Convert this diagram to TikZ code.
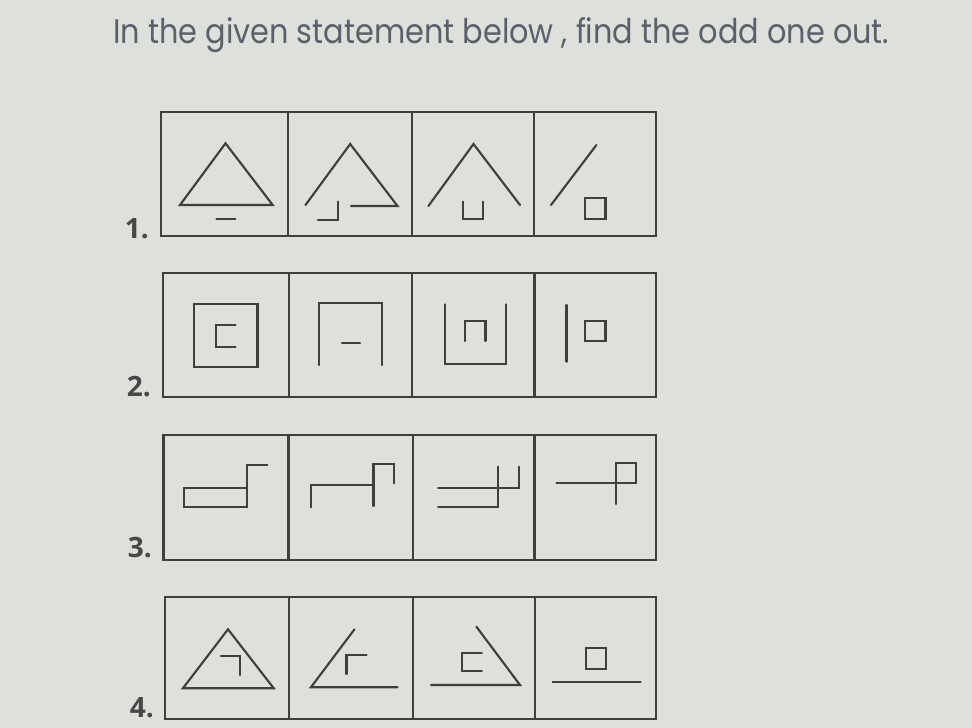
\documentclass[tikz,border=0pt]{standalone}
\usepackage{fontspec}
\setmainfont{Poppins}
\newfontfamily\lblfont{Open Sans}
\definecolor{bg}{RGB}{221,224,219}
\definecolor{ink}{RGB}{62,64,62}
\definecolor{lblink}{RGB}{70,72,72}
\definecolor{titleink}{RGB}{92,96,106}
\begin{document}
\begin{tikzpicture}[x=0.75pt,y=-0.75pt,
  cellbox/.style={draw=ink,line width=1.7pt},
  fig/.style={draw=ink,line width=1.6pt,line cap=round,line join=miter},
  lbl/.style={text=lblink,font=\lblfont\bfseries\fontsize{21}{24}\selectfont,inner sep=0pt,anchor=base east}]
\fill[bg] (0,0) rectangle (972,728);
\useasboundingbox (0,0) rectangle (972,728);
\node[text=titleink,inner sep=0pt,anchor=base west] (title) at (113,43)
  {\resizebox{582pt}{19.5pt}{In the given statement below , find the odd one out.}};
% labels
\node[lbl] (l1) at (149,238) {1.};
\node[lbl] (l2) at (151,396) {2.};
\node[lbl] (l3) at (152,557) {3.};
\node[lbl] (l4) at (154,717) {4.};
% row 1
\draw[cellbox] (161,112) rectangle (656,236);
\draw[cellbox] (288,112) -- (288,236) (412,112) -- (412,236) (534,112) -- (534,236);
\draw[fig] (225.5,143.3) -- (180,205) -- (272.7,205) -- cycle;
\draw[fig] (216.4,219.3) -- (235.3,219.3);
\draw[fig] (305.5,205) -- (350.2,144) -- (397.5,206) -- (351,206);
\draw[fig] (318,220) -- (338,220) -- (338,201.7);
\draw[fig] (428.4,206) -- (473.5,144) -- (520,205);
\draw[fig] (463,201.7) -- (463,219.3) -- (483,219.3) -- (483,201.7);
\draw[fig] (551,205) -- (596.4,145);
\draw[fig] (584.7,198.3) rectangle (605.5,219.3);
% row 2
\draw[cellbox] (163,273) rectangle (656,396.7);
\draw[cellbox] (289,273) -- (289,396.7) (412,273) -- (412,396.7) (534.5,273) -- (534.5,396.7);
\draw[fig] (193.8,304.3) rectangle (257.5,366.7);
\draw[fig] (235.6,325) -- (215.6,325) -- (215.6,346.7) -- (235.6,346.7);
\draw[fig] (319.3,365) -- (319.3,303.3) -- (381.8,303.3) -- (381.8,365);
\draw[fig] (341.8,342.7) -- (360,342.7);
\draw[fig] (444.7,304.3) -- (444.7,364) -- (506.2,364) -- (506.2,304.3);
\draw[fig] (464.7,341) -- (464.7,321) -- (485.5,321) -- (485.5,341);
\draw[fig] (566.5,305) -- (566.5,361.7);
\draw[fig] (584.7,321) rectangle (605.5,341);
% row 3
\draw[cellbox] (163.6,435) rectangle (656,560);
\draw[cellbox] (288.4,435) -- (288.4,560) (412.7,435) -- (412.7,560) (534.5,435) -- (534.5,560);
\draw[fig] (267.3,465) -- (247.3,465) -- (247.3,507.3) -- (184.4,507.3) -- (184.4,487.7) -- (247.3,487.7);
\draw[fig] (310.9,507.3) -- (310.9,485) -- (373.5,485);
\draw[fig] (373.5,506) -- (373.5,464.3) -- (393.8,464.3) -- (393.8,483.3);
\draw[fig] (438.2,487.7) -- (518.9,487.7) -- (518.9,466.7);
\draw[fig] (498.2,466.7) -- (498.2,507.3) -- (438.2,507.3);
\draw[fig] (556.4,483.3) -- (635.6,483.3) -- (635.6,462.7) -- (615.6,462.7) -- (615.6,504);
% row 4
\draw[cellbox] (164.7,597.3) rectangle (656,719.3);
\draw[cellbox] (289,597.3) -- (289,719.3) (412.7,597.3) -- (412.7,719.3) (535.3,597.3) -- (535.3,719.3);
\draw[fig] (228,629.3) -- (182.9,688.3) -- (273.8,688.3) -- cycle;
\draw[fig] (221,656) -- (240,656) -- (240,675);
\draw[fig] (354.5,629.3) -- (310.9,687.3) -- (397.5,687.3);
\draw[fig] (346.5,674) -- (346.5,655) -- (366.5,655);
\draw[fig] (476.4,626.7) -- (520,685) -- (430.9,685);
\draw[fig] (481.8,652.7) -- (461.8,652.7) -- (461.8,670.7) -- (481.8,670.7);
\draw[fig] (586,648.3) rectangle (606.2,669.3);
\draw[fig] (552.7,682.3) -- (640.7,682.3);
\end{tikzpicture}
\end{document}
